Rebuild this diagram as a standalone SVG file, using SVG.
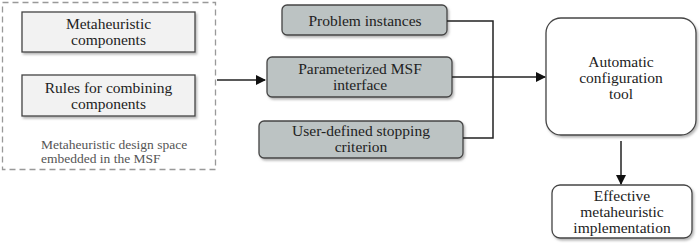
<svg xmlns="http://www.w3.org/2000/svg" width="700" height="244" viewBox="0 0 700 244">
<style>
.t{font-family:"Liberation Serif","Times New Roman",serif;font-size:15.5px;fill:#222;text-anchor:middle}
.cap{font-family:"Liberation Serif","Times New Roman",serif;font-size:13.5px;fill:#555}
.lb{fill:#f2f2f2;stroke:#444;stroke-width:1.3}
.gb{fill:#bcc3c3;stroke:#444;stroke-width:1.3}
.wb{fill:#fff;stroke:#444;stroke-width:1.3}
.ln{fill:none;stroke:#222;stroke-width:1.5}
</style>
<defs>
<filter id="sh" x="-10%" y="-10%" width="130%" height="140%">
<feDropShadow dx="1.5" dy="2" stdDeviation="1" flood-color="#888" flood-opacity="0.6"/>
</filter>
<marker id="ar" markerWidth="10" markerHeight="10" refX="9" refY="5" orient="auto" markerUnits="userSpaceOnUse">
<path d="M0,0 L10,5 L0,10 Z" fill="#111"/>
</marker>
</defs>
<g id="design-space">
<rect x="2.5" y="2.5" width="213" height="167" fill="none" stroke="#999" stroke-width="1.3" stroke-dasharray="6,4"/>
<text class="cap" x="41" y="149">Metaheuristic design space</text>
<text class="cap" x="41" y="163">embedded in the MSF</text>
</g>
<g id="meta-components">
<rect class="lb" x="22" y="12" width="173" height="40" filter="url(#sh)"/>
<text class="t" x="108.5" y="29">Metaheuristic</text>
<text class="t" x="108.5" y="45">components</text>
</g>
<g id="rules">
<rect class="lb" x="22" y="75" width="173" height="41" filter="url(#sh)"/>
<text class="t" x="108.5" y="93">Rules for combining</text>
<text class="t" x="108.5" y="109">components</text>
</g>
<g id="problem-instances">
<rect class="gb" x="282" y="5" width="165" height="30" rx="5" filter="url(#sh)"/>
<text class="t" x="365" y="25.5">Problem instances</text>
</g>
<g id="msf-interface">
<rect class="gb" x="267" y="57" width="185" height="40" rx="5" filter="url(#sh)"/>
<text class="t" x="360" y="74">Parameterized MSF</text>
<text class="t" x="360" y="90">interface</text>
</g>
<g id="stopping">
<rect class="gb" x="259" y="121" width="204" height="37" rx="5" filter="url(#sh)"/>
<text class="t" x="361" y="136">User-defined stopping</text>
<text class="t" x="361" y="152">criterion</text>
</g>
<g id="config-tool">
<rect class="wb" x="546" y="18" width="150" height="117" rx="15" filter="url(#sh)"/>
<text class="t" x="621" y="67">Automatic</text>
<text class="t" x="621" y="83">configuration</text>
<text class="t" x="621" y="99">tool</text>
</g>
<g id="effective">
<rect class="wb" x="552" y="185" width="140" height="53" rx="8" filter="url(#sh)"/>
<text class="t" x="622" y="201">Effective</text>
<text class="t" x="622" y="217">metaheuristic</text>
<text class="t" x="622" y="233">implementation</text>
</g>
<g id="connectors">
<line class="ln" x1="217" y1="80" x2="265" y2="80" marker-end="url(#ar)"/>
<polyline class="ln" points="447,21 493,21 493,138 463,138"/>
<line class="ln" x1="452" y1="77" x2="545" y2="77" marker-end="url(#ar)"/>
<line class="ln" x1="621" y1="141" x2="621" y2="184" marker-end="url(#ar)"/>
</g>
</svg>
